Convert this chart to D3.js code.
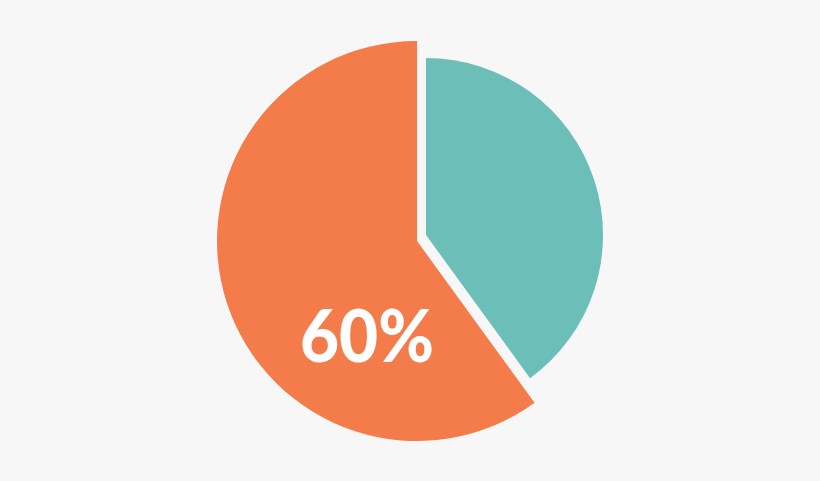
<!DOCTYPE html>
<html><head><meta charset="utf-8">
<script src="https://cdn.jsdelivr.net/npm/d3@7"></script>
<style>html,body{margin:0;padding:0;background:#f7f7f7;}</style>
</head><body>
<svg id="chart" width="820" height="481"></svg>
<script>
const categories = ["B", "A"];
const values = [40, 60];
const labels = ["", "60%"];
const colors = ["#6cbfb9", "#f47b4a"];

const svg = d3.select("#chart");
svg.append("rect").attr("width", 820).attr("height", 481).attr("fill", "#f7f7f7");

const cx = 417, cy = 241;
const radii = [177, 200];
const offsets = [[9, -6], [0, 0]];

const pie = d3.pie().sort(null).value(d => d)(values);

const g = svg.append("g").attr("transform", `translate(${cx},${cy})`);
g.selectAll("path").data(pie).join("path")
  .attr("transform", (d, i) => `translate(${offsets[i][0]},${offsets[i][1]})`)
  .attr("d", (d, i) => d3.arc().innerRadius(0).outerRadius(radii[i])(d))
  .attr("fill", (d, i) => colors[i]);

g.append("text")
  .attr("x", -50).attr("y", 121)
  .attr("text-anchor", "middle")
  .attr("fill", "#ffffff")
  .attr("font-family", "Lato, 'Open Sans', sans-serif")
  .attr("font-weight", 900)
  .attr("font-size", 72)
  .attr("textLength", 134)
  .attr("lengthAdjust", "spacingAndGlyphs")
  .text(labels[1]);
</script>
</body></html>
